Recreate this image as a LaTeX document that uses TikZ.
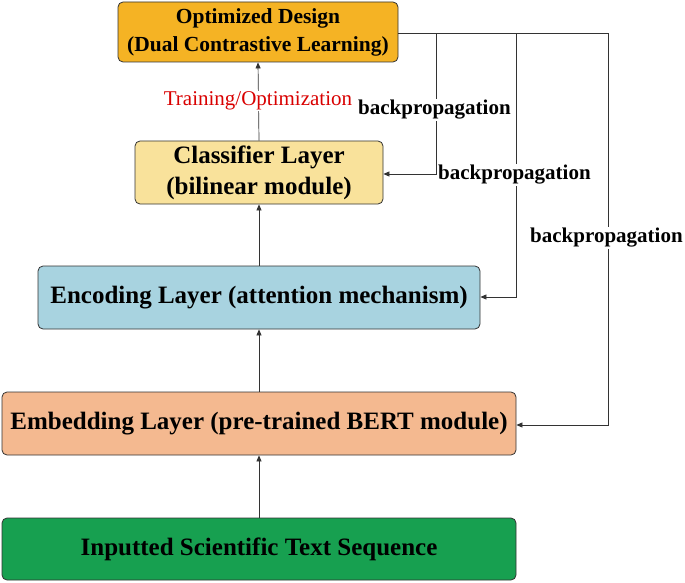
\documentclass[tikz,border=0pt]{standalone}
\usepackage{fontspec}
\setmainfont{Liberation Serif}
\usetikzlibrary{arrows.meta}
\definecolor{cOpt}{HTML}{F5B324}
\definecolor{cCls}{HTML}{F9E29B}
\definecolor{cEnc}{HTML}{A8D3E0}
\definecolor{cEmb}{HTML}{F4B990}
\definecolor{cInp}{HTML}{17A050}
\tikzset{
 blk/.style={draw=black!80, line width=0.8pt, rounded corners=5pt, inner sep=0pt, font=\bfseries\fontsize{25}{30}\selectfont, align=center},
 arr/.style={-{Triangle[length=6pt,width=5pt]}, line width=0.7pt, draw=black!80},
 lbl/.style={font=\bfseries\fontsize{21}{24}\selectfont, fill=white, inner sep=1pt}
}
\begin{document}
\begin{tikzpicture}[x=1pt,y=-1pt]
\useasboundingbox (0,0) rectangle (685,583);
\node[blk, fill=cOpt, minimum width=280pt, minimum height=60pt, font=\bfseries\fontsize{21.5}{28}\selectfont] (opt) at (258,32) {Optimized Design\\(Dual Contrastive Learning)};
\node[blk, fill=cCls, minimum width=248pt, minimum height=63pt, font=\bfseries\fontsize{25}{31}\selectfont] (cls) at (259,172.5) {Classifier Layer\\(bilinear module)};
\node[blk, fill=cEnc, minimum width=442pt, minimum height=63pt] (enc) at (259,297.5) {Encoding Layer (attention mechanism)};
\node[blk, fill=cEmb, minimum width=514pt, minimum height=63pt] (emb) at (259,423.5) {Embedding Layer (pre-trained BERT module)};
\node[blk, fill=cInp, minimum width=514pt, minimum height=62pt] (inp) at (259,549) {Inputted Scientific Text Sequence};
\draw[arr] (inp.north) -- (emb.south);
\draw[arr] (emb.north) -- (enc.south);
\draw[arr] (enc.north) -- (cls.south);
\draw[arr] (cls.north) -- (opt.south);
\node[font=\fontsize{21}{24}\selectfont, text=red!85!black, fill=white, inner sep=1pt] (tr) at (258,101) {Training/Optimization};
\coordinate (o1) at (opt.east |- 0,33);
\draw[arr] (o1) -- (608,33) -- (608,425) -- (emb.east |- 0,425);
\draw[arr] (o1) -- (516,33) -- (516,297) -- (enc.east |- 0,297);
\draw[arr] (o1) -- (436,33) -- (436,174) -- (cls.east |- 0,174);
\node[lbl, anchor=west] (b1) at (357,110) {backpropagation};
\node[lbl, anchor=west] (b2) at (437,175) {backpropagation};
\node[lbl, anchor=west] (b3) at (529,238) {backpropagation};
\end{tikzpicture}
\end{document}
